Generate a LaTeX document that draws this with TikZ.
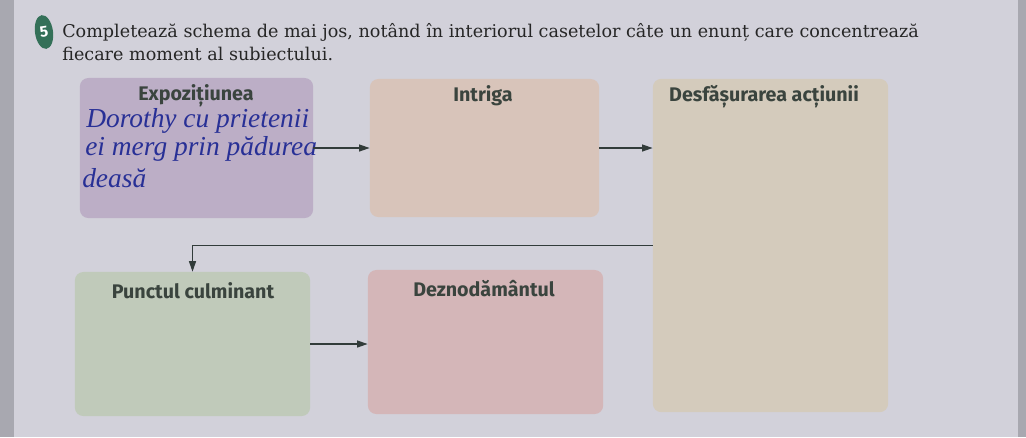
\documentclass[tikz,border=0pt]{standalone}
\usepackage{fontspec}
\setmainfont{DejaVu Serif}
\newfontfamily\boxfont{Fira Sans}
\newfontfamily\handfont{Liberation Serif}
\usetikzlibrary{arrows.meta,shapes.geometric}
\definecolor{paper}{RGB}{210,209,218}
\definecolor{edge}{RGB}{168,168,176}
\definecolor{badge}{RGB}{52,112,88}
\definecolor{labelgray}{RGB}{58,68,62}
\definecolor{linegray}{RGB}{50,60,58}
\definecolor{pen}{RGB}{40,48,150}
\definecolor{cExp}{RGB}{188,174,198}
\definecolor{cIntr}{RGB}{216,196,186}
\definecolor{cDesf}{RGB}{212,203,188}
\definecolor{cPunct}{RGB}{192,202,186}
\definecolor{cDezn}{RGB}{212,182,184}
\tikzset{
  casuta/.style={rectangle, rounded corners=6pt, inner sep=0pt},
  titlu/.style={font=\boxfont\bfseries\fontsize{14}{16}\selectfont, text=labelgray, anchor=base},
  sageata/.style={draw=linegray, line width=0.8pt, -{Triangle[length=7.5pt,width=5pt]}},
  scris/.style={font=\handfont\itshape\fontsize{19.5}{21}\selectfont, text=pen, anchor=base west, inner sep=0pt},
  enunt/.style={font=\fontsize{12.5}{15}\selectfont, text=black!85, anchor=base west, inner sep=0pt}
}
\begin{document}
\begin{tikzpicture}[x=0.025cm,y=-0.025cm]
  \useasboundingbox (0,0) rectangle (1026,437);
  \fill[paper] (0,0) rectangle (1026,437);
  \fill[edge] (0,0) rectangle (14,437);
  \fill[edge] (1018,0) rectangle (1026,437);

  % cerinta
  \node[ellipse, fill=badge, minimum width=0.45cm, minimum height=0.85cm, inner sep=0pt, rotate=8,
        text=white, font=\boxfont\bfseries\fontsize{11}{11}\selectfont] (nr) at (44,32) {5};
  \node[enunt] (rand1) at (62,37) {Completează schema de mai jos, notând în interiorul casetelor câte un enunț care concentrează};
  \node[enunt] (rand2) at (62,60) {fiecare moment al subiectului.};

  % casetele
  \node[casuta, fill=cExp, minimum width=5.83cm, minimum height=3.5cm] (exp) at (196.5,148) {};
  \node[casuta, fill=cIntr, minimum width=5.73cm, minimum height=3.45cm] (intr) at (484.5,148) {};
  \node[casuta, fill=cDesf, minimum width=5.88cm, minimum height=8.33cm] (desf) at (770.5,245.5) {};
  \node[casuta, fill=cPunct, minimum width=5.88cm, minimum height=3.6cm] (punct) at (192.5,344) {};
  \node[casuta, fill=cDezn, minimum width=5.88cm, minimum height=3.6cm] (dezn) at (485.5,342) {};

  \node[titlu] (tExp) at (196,100) {Expozițiunea};
  \node[titlu] (tIntr) at (483,101) {Intriga};
  \node[titlu] (tDesf) at (764,101) {Desfășurarea acțiunii};
  \node[titlu] (tPunct) at (193,298) {Punctul culminant};
  \node[titlu] (tDezn) at (484,296) {Deznodământul};

  % raspunsul scris de mana
  \node[scris] (s1) at (86,127) {Dorothy cu prietenii};
  \node[scris] (s2) at (85,155) {ei merg prin pădurea};
  \node[scris] (s3) at (82,187) {deasă};

  % sagetile
  \draw[sageata] (exp.east) -- (intr.west);
  \draw[sageata] (intr.east) -- (intr.east -| desf.west);
  \draw[sageata] (desf.west) -| (punct.north);
  \draw[sageata] (punct.east) -- (punct.east -| dezn.west);
\end{tikzpicture}
\end{document}
